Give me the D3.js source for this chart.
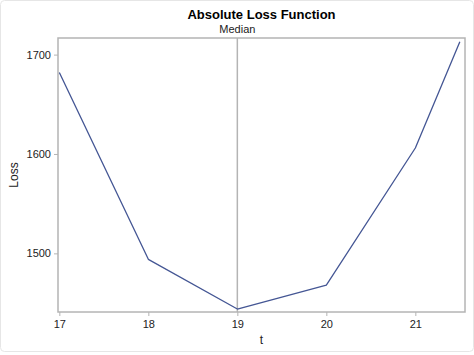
<!DOCTYPE html>
<html>
<head>
<meta charset="utf-8">
<script src="https://cdn.jsdelivr.net/npm/d3@7"></script>
<style>
  body { margin: 0; background: #fff; }
  text { font-family: Arial, "Liberation Sans", sans-serif; }
</style>
</head>
<body>
<svg id="chart"></svg>
<script>
// chart data
const tValues = [17, 18, 19, 20, 21, 21.5];
const lossValues = [1682, 1494, 1444, 1468, 1606, 1713];
const xTicks = [17, 18, 19, 20, 21];
const yTicks = [1500, 1600, 1700];
const medianT = 19;

const width = 474, height = 355;
const margin = { top: 38, right: 9, bottom: 43, left: 58 };
const plotWidth = width - margin.left - margin.right;
const plotHeight = height - margin.top - margin.bottom;

const frameColor = "#b4b4b4";
const lineColor = "#445694";

const svg = d3.select("#chart").attr("width", width).attr("height", height);

// light outer border like the graph frame
svg.append("rect")
  .attr("x", 0.5).attr("y", 0.5)
  .attr("width", width - 1).attr("height", height - 4)
  .attr("rx", 4)
  .attr("fill", "none")
  .attr("stroke", "#e6e6e6");

const plotArea = svg.append("g")
  .attr("transform", `translate(${margin.left}, ${margin.top})`);

// scales
const xAxis = d3.scaleLinear()
  .domain([16.985, 21.558])
  .range([0, plotWidth]);

const yAxis = d3.scaleLinear()
  .domain([1441, 1716.7])
  .range([plotHeight, 0]);

// axes
const gx = plotArea.append("g")
  .attr("transform", `translate(0, ${plotHeight})`)
  .call(d3.axisBottom(xAxis).tickValues(xTicks).tickFormat(d3.format("d"))
    .tickSize(4).tickPadding(4).tickSizeOuter(0));

const gy = plotArea.append("g")
  .call(d3.axisLeft(yAxis).tickValues(yTicks).tickFormat(d3.format("d"))
    .tickSize(4).tickPadding(3).tickSizeOuter(0));

[gx, gy].forEach(g => {
  g.select(".domain").remove();
  g.selectAll("line").attr("stroke", frameColor);
  g.selectAll("text")
    .attr("font-size", 11)
    .attr("fill", "#222")
    .style("font-family", "Arial, 'Liberation Sans', sans-serif");
});

// median reference line
plotArea.append("line")
  .attr("x1", xAxis(medianT)).attr("x2", xAxis(medianT))
  .attr("y1", 0).attr("y2", plotHeight)
  .attr("stroke", frameColor)
  .attr("stroke-width", 1.5);

plotArea.append("text")
  .attr("x", xAxis(medianT))
  .attr("y", -5)
  .attr("text-anchor", "middle")
  .attr("font-size", 11)
  .attr("fill", "#222")
  .text("Median");

// loss curve
const lossLine = d3.line()
  .x(d => xAxis(d[0]))
  .y(d => yAxis(d[1]));

plotArea.append("path")
  .datum(d3.zip(tValues, lossValues))
  .attr("fill", "none")
  .attr("stroke", lineColor)
  .attr("stroke-width", 1.3)
  .attr("stroke-linejoin", "round")
  .attr("d", lossLine);

// plot frame
plotArea.append("rect")
  .attr("x", 0).attr("y", 0)
  .attr("width", plotWidth).attr("height", plotHeight)
  .attr("fill", "none")
  .attr("stroke", frameColor)
  .attr("stroke-width", 1.5);

// title and axis labels
svg.append("text")
  .attr("x", margin.left + plotWidth / 2)
  .attr("y", 19)
  .attr("text-anchor", "middle")
  .attr("font-size", 13)
  .attr("font-weight", "bold")
  .attr("fill", "#000")
  .text("Absolute Loss Function");

svg.append("text")
  .attr("x", margin.left + plotWidth / 2)
  .attr("y", 344)
  .attr("text-anchor", "middle")
  .attr("font-size", 12)
  .attr("fill", "#222")
  .text("t");

svg.append("text")
  .attr("transform", `translate(18, ${margin.top + plotHeight / 2}) rotate(-90)`)
  .attr("text-anchor", "middle")
  .attr("font-size", 12)
  .attr("fill", "#222")
  .text("Loss");
</script>
</body>
</html>
